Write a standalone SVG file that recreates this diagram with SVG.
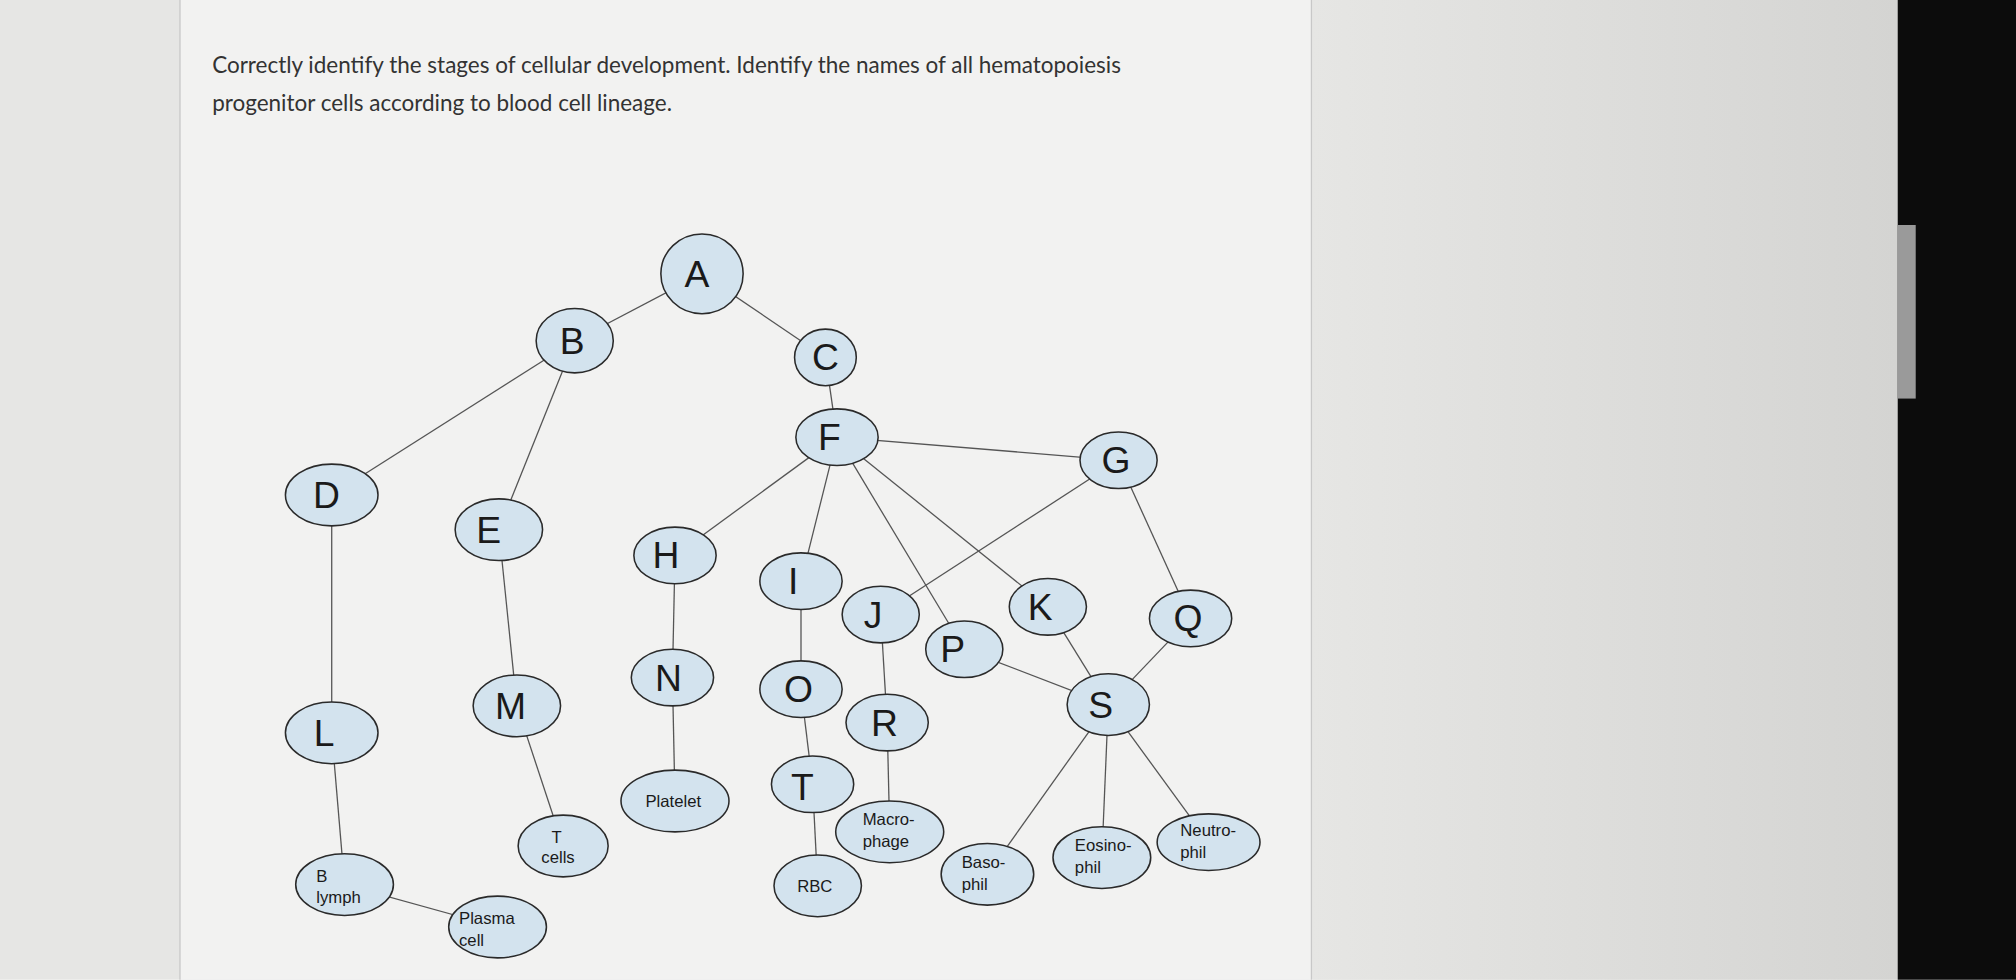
<svg xmlns="http://www.w3.org/2000/svg" width="2016" height="980" viewBox="0 0 2016 980">
<defs>
<linearGradient id="rg" x1="0" x2="1" y1="0" y2="0"><stop offset="0" stop-color="#e6e6e4"/><stop offset="1" stop-color="#d4d4d2"/></linearGradient>
</defs>
<style>
.n ellipse{fill:#d3e3ee;stroke:#2a2a2a;stroke-width:1.2}
.big{font-family:"Liberation Sans",Arial,sans-serif;font-size:29px;fill:#1a1a1a;text-anchor:middle;dominant-baseline:central}
.sm{font-family:"Liberation Sans",Arial,sans-serif;font-size:13px;fill:#1a1a1a}
.c line{stroke:#555;stroke-width:1}
.q{font-family:"Lato","Open Sans",sans-serif;font-size:17.5px;fill:#333}
</style>
<g transform="scale(1.285714)">
<rect x="0" y="0" width="1568" height="762" fill="#e6e6e4"/>
<rect x="140" y="0" width="880" height="762" fill="#f2f2f1"/>
<line x1="140" y1="0" x2="140" y2="762" stroke="#c8c8c8"/>
<line x1="1020" y1="0" x2="1020" y2="762" stroke="#c8c8c8"/>
<rect x="1021" y="0" width="455" height="762" fill="url(#rg)"/>
<rect x="1476" y="0" width="92" height="762" fill="#0c0c0c"/>
<rect x="1476" y="175" width="14" height="135" fill="#9a9a9a"/>
<text class="q" x="165" y="57">Correctly identify the stages of cellular development. Identify the names of all hematopoiesis</text>
<text class="q" x="165" y="86">progenitor cells according to blood cell lineage.</text>
<g class="c" id="connectors">
<line x1="546" y1="213" x2="447" y2="265"/><line x1="546" y1="213" x2="642" y2="278"/>
<line x1="447" y1="265" x2="258" y2="385"/><line x1="447" y1="265" x2="388" y2="412"/>
<line x1="642" y1="278" x2="651" y2="340"/>
<line x1="651" y1="340" x2="870" y2="358"/><line x1="651" y1="340" x2="525" y2="432"/>
<line x1="651" y1="340" x2="623" y2="452"/><line x1="651" y1="340" x2="750" y2="505"/>
<line x1="651" y1="340" x2="815" y2="472"/>
<line x1="870" y1="358" x2="685" y2="478"/><line x1="870" y1="358" x2="926" y2="481"/>
<line x1="258" y1="385" x2="258" y2="570"/><line x1="388" y1="412" x2="402" y2="549"/>
<line x1="525" y1="432" x2="523" y2="527"/><line x1="623" y1="452" x2="623" y2="536"/>
<line x1="685" y1="478" x2="690" y2="562"/><line x1="815" y1="472" x2="862" y2="548"/>
<line x1="750" y1="505" x2="862" y2="548"/><line x1="926" y1="481" x2="862" y2="548"/>
<line x1="523" y1="527" x2="525" y2="623"/><line x1="623" y1="536" x2="632" y2="610"/>
<line x1="690" y1="562" x2="692" y2="647"/><line x1="402" y1="549" x2="438" y2="658"/>
<line x1="632" y1="610" x2="636" y2="689"/>
<line x1="862" y1="548" x2="768" y2="680"/><line x1="862" y1="548" x2="857" y2="667"/>
<line x1="862" y1="548" x2="940" y2="655"/>
<line x1="258" y1="570" x2="268" y2="688"/><line x1="268" y1="688" x2="387" y2="721"/>
</g>
<g class="n" id="A"><ellipse cx="546" cy="213" rx="32" ry="31"/><text class="big" x="542" y="213">A</text></g>
<g class="n" id="B"><ellipse cx="447" cy="265" rx="30" ry="25"/><text class="big" x="445" y="265">B</text></g>
<g class="n" id="C"><ellipse cx="642" cy="278" rx="24" ry="22"/><text class="big" x="642" y="278">C</text></g>
<g class="n" id="F"><ellipse cx="651" cy="340" rx="32" ry="22"/><text class="big" x="645" y="340">F</text></g>
<g class="n" id="G"><ellipse cx="870" cy="358" rx="30" ry="22"/><text class="big" x="868" y="358">G</text></g>
<g class="n" id="D"><ellipse cx="258" cy="385" rx="36" ry="24"/><text class="big" x="254" y="385">D</text></g>
<g class="n" id="E"><ellipse cx="388" cy="412" rx="34" ry="24"/><text class="big" x="380" y="412">E</text></g>
<g class="n" id="H"><ellipse cx="525" cy="432" rx="32" ry="22"/><text class="big" x="518" y="432">H</text></g>
<g class="n" id="I"><ellipse cx="623" cy="452" rx="32" ry="22"/><text class="big" x="617" y="452">I</text></g>
<g class="n" id="J"><ellipse cx="685" cy="478" rx="30" ry="22"/><text class="big" x="679" y="478">J</text></g>
<g class="n" id="K"><ellipse cx="815" cy="472" rx="30" ry="22"/><text class="big" x="809" y="472">K</text></g>
<g class="n" id="Q"><ellipse cx="926" cy="481" rx="32" ry="22"/><text class="big" x="924" y="481">Q</text></g>
<g class="n" id="P"><ellipse cx="750" cy="505" rx="30" ry="22"/><text class="big" x="741" y="505">P</text></g>
<g class="n" id="N"><ellipse cx="523" cy="527" rx="32" ry="22"/><text class="big" x="520" y="527">N</text></g>
<g class="n" id="O"><ellipse cx="623" cy="536" rx="32" ry="22"/><text class="big" x="621" y="536">O</text></g>
<g class="n" id="R"><ellipse cx="690" cy="562" rx="32" ry="22"/><text class="big" x="688" y="562">R</text></g>
<g class="n" id="S"><ellipse cx="862" cy="548" rx="32" ry="24"/><text class="big" x="856" y="548">S</text></g>
<g class="n" id="M"><ellipse cx="402" cy="549" rx="34" ry="24"/><text class="big" x="397" y="549">M</text></g>
<g class="n" id="L"><ellipse cx="258" cy="570" rx="36" ry="24"/><text class="big" x="252" y="570">L</text></g>
<g class="n" id="T"><ellipse cx="632" cy="610" rx="32" ry="22"/><text class="big" x="624" y="612">T</text></g>
<g class="n" id="Platelet"><ellipse cx="525" cy="623" rx="42" ry="24"/><text class="sm" x="502" y="628">Platelet</text></g>
<g class="n" id="Macrophage"><ellipse cx="692" cy="647" rx="42" ry="24"/><text class="sm" x="671" y="642">Macro-</text><text class="sm" x="671" y="659">phage</text></g>
<g class="n" id="Tcells"><ellipse cx="438" cy="658" rx="35" ry="24"/><text class="sm" x="429" y="656">T</text><text class="sm" x="421" y="671">cells</text></g>
<g class="n" id="RBC"><ellipse cx="636" cy="689" rx="34" ry="24"/><text class="sm" x="620" y="694">RBC</text></g>
<g class="n" id="Basophil"><ellipse cx="768" cy="680" rx="36" ry="24"/><text class="sm" x="748" y="675">Baso-</text><text class="sm" x="748" y="692">phil</text></g>
<g class="n" id="Eosinophil"><ellipse cx="857" cy="667" rx="38" ry="24"/><text class="sm" x="836" y="662">Eosino-</text><text class="sm" x="836" y="679">phil</text></g>
<g class="n" id="Neutrophil"><ellipse cx="940" cy="655" rx="40" ry="22"/><text class="sm" x="918" y="650">Neutro-</text><text class="sm" x="918" y="667">phil</text></g>
<g class="n" id="Blymph"><ellipse cx="268" cy="688" rx="38" ry="24"/><text class="sm" x="246" y="686">B</text><text class="sm" x="246" y="702">lymph</text></g>
<g class="n" id="Plasma"><ellipse cx="387" cy="721" rx="38" ry="24"/><text class="sm" x="357" y="719">Plasma</text><text class="sm" x="357" y="736">cell</text></g>
</g>
</svg>
